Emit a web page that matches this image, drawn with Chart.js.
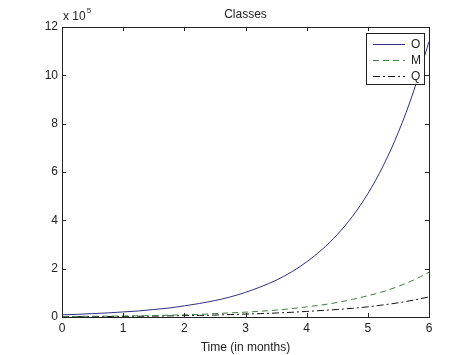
<!DOCTYPE html>
<html>
<head>
<meta charset="utf-8">
<script src="https://cdn.jsdelivr.net/npm/chart.js@4"></script>
<style>
html,body{margin:0;padding:0;background:#fff;}
#wrap{width:474px;height:355px;position:relative;}
</style>
</head>
<body>
<div id="wrap"><canvas id="c" width="474" height="355"></canvas></div>
<script>
// Data (values in units of 10^5)
const times = [0,0.25,0.5,0.75,1,1.25,1.5,1.75,2,2.25,2.5,2.75,3,3.25,3.5,3.75,4,4.25,4.5,4.75,5,5.25,5.5,5.75,6];
const seriesO = [0.09,0.11,0.14,0.17,0.21,0.25,0.31,0.37,0.46,0.56,0.68,0.83,1.02,1.25,1.52,1.86,2.28,2.79,3.41,4.17,5.1,6.25,7.65,9.35,11.4];
const seriesM = [0.02,0.025,0.03,0.035,0.04,0.05,0.06,0.075,0.09,0.11,0.14,0.17,0.2,0.24,0.285,0.345,0.42,0.5,0.6,0.73,0.88,1.05,1.27,1.53,1.85];
const seriesQ = [0.01,0.012,0.015,0.02,0.025,0.03,0.037,0.045,0.055,0.065,0.08,0.1,0.12,0.14,0.165,0.195,0.23,0.27,0.31,0.36,0.42,0.5,0.59,0.7,0.83];
const seriesNames = ['O','M','Q'];
const xTicks = [0,1,2,3,4,5,6];
const yTicks = [0,2,4,6,8,10,12];
const chartTitle = 'Classes';
const xTitle = 'Time (in months)';
const yMultiplier = '5';

const FONT = '"Liberation Sans", Arial, sans-serif';
const TEXT = '#222';

function pts(ys){ return times.map((t,i)=>({x:t,y:ys[i]})); }

const frame = {
  id:'frame',
  afterDatasetsDraw(chart){
    const ctx = chart.ctx, a = chart.chartArea;
    const xs = chart.scales.x, ys = chart.scales.y;
    ctx.save();
    ctx.strokeStyle = '#222';
    ctx.lineWidth = 1;
    ctx.strokeRect(Math.round(a.left)+0.5, Math.round(a.top)+0.5, Math.round(a.right-a.left), Math.round(a.bottom-a.top));
    const tl = 4;
    ctx.beginPath();
    xTicks.forEach(v=>{
      const px = Math.round(xs.getPixelForValue(v))+0.5;
      ctx.moveTo(px,a.bottom); ctx.lineTo(px,a.bottom-tl);
      ctx.moveTo(px,a.top); ctx.lineTo(px,a.top+tl);
    });
    yTicks.forEach(v=>{
      const py = Math.round(ys.getPixelForValue(v))+0.5;
      ctx.moveTo(a.left,py); ctx.lineTo(a.left+tl,py);
      ctx.moveTo(a.right,py); ctx.lineTo(a.right-tl,py);
    });
    ctx.stroke();
    // title
    ctx.fillStyle = TEXT;
    ctx.font = '12px ' + FONT;
    ctx.textAlign = 'center'; ctx.textBaseline = 'middle';
    ctx.fillText(chartTitle, (a.left+a.right)/2, 15);
    // multiplier
    ctx.textAlign = 'left';
    ctx.font = '12px ' + FONT;
    ctx.fillText('x 10', a.left+1, 17);
    const w = ctx.measureText('x 10').width;
    ctx.font = '8px ' + FONT;
    ctx.fillText(yMultiplier, a.left+1+w+1, 11);
    // legend
    const bx = 366, by = 33, bw = 58, bh = 51;
    ctx.fillStyle = '#fff';
    ctx.fillRect(bx,by,bw,bh);
    ctx.strokeStyle = '#222';
    ctx.strokeRect(bx+0.5,by+0.5,bw,bh);
    ctx.font = '12px ' + FONT;
    chart.data.datasets.forEach((d,i)=>{
      const y = by + 11 + i*16 + 0.5;
      ctx.save();
      ctx.strokeStyle = d.borderColor;
      ctx.lineWidth = 1;
      ctx.setLineDash(d.borderDash || []);
      ctx.beginPath(); ctx.moveTo(bx+7,y); ctx.lineTo(bx+39,y); ctx.stroke();
      ctx.restore();
      ctx.fillStyle = TEXT;
      ctx.textAlign = 'left'; ctx.textBaseline = 'middle';
      ctx.fillText(d.label, bx+45, y);
    });
    ctx.restore();
  }
};

const common = {borderWidth:1, pointRadius:0, cubicInterpolationMode:'monotone', fill:false};
new Chart(document.getElementById('c'), {
  type:'line',
  data:{
    datasets:[
      Object.assign({label:seriesNames[0], data:pts(seriesO), borderColor:'#2e2e86'}, common),
      Object.assign({label:seriesNames[1], data:pts(seriesM), borderColor:'#3f7f3f', borderDash:[6,4]}, common),
      Object.assign({label:seriesNames[2], data:pts(seriesQ), borderColor:'#111', borderDash:[7,3,2,3]}, common)
    ]
  },
  options:{
    responsive:false,
    animation:false,
    layout:{padding:{top:27,right:45,left:0,bottom:0}},
    plugins:{legend:{display:false}, title:{display:false}, tooltip:{enabled:false}},
    scales:{
      x:{
        type:'linear', min:0, max:6,
        afterBuildTicks(s){ s.ticks = xTicks.map(v=>({value:v})); },
        afterFit(s){ s.height = 38; },
        grid:{display:false, drawTicks:false},
        border:{display:false},
        ticks:{color:TEXT, font:{size:12, family:FONT}, padding:4, maxRotation:0},
        title:{display:true, text:xTitle, color:TEXT, font:{size:12, family:FONT}, padding:{top:2,bottom:0}}
      },
      y:{
        type:'linear', min:0, max:12,
        afterBuildTicks(s){ s.ticks = yTicks.map(v=>({value:v})); },
        afterFit(s){ s.width = 62; },
        grid:{display:false, drawTicks:false},
        border:{display:false},
        ticks:{color:TEXT, font:{size:12, family:FONT}, padding:4}
      }
    }
  },
  plugins:[frame]
});
</script>
</body>
</html>
